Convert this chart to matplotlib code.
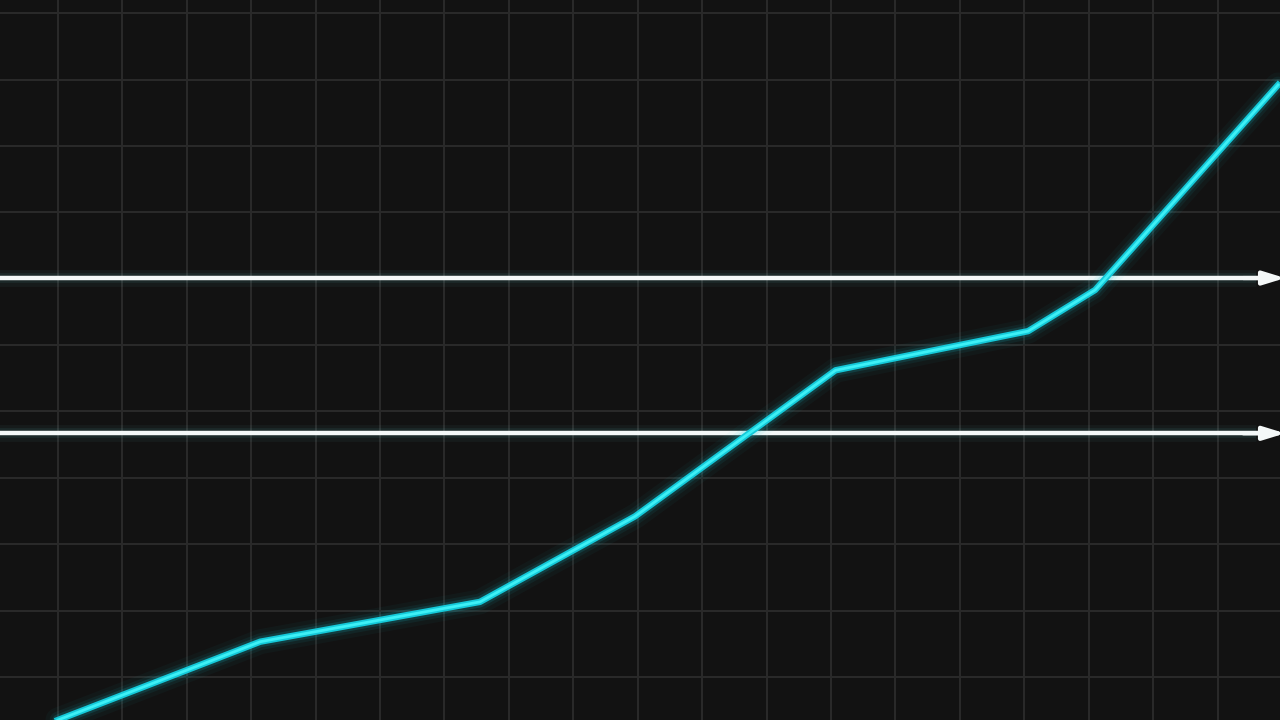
import numpy as np
import matplotlib
matplotlib.use("Agg")
from matplotlib import pyplot as plt

# curve vertices, in grid units
xs = [0.0, 3.14, 6.55, 8.96, 12.07, 15.06, 16.10, 18.94]
ys = [-0.65, 0.53, 1.13, 2.42, 4.62, 5.21, 5.83, 8.92]

# the two horizontal reference levels
levels = [6.01, 3.67]

bg = "#121212"
fig = plt.figure(figsize=(12.8, 7.2), dpi=100, facecolor=bg)
ax = fig.add_axes([0, 0, 1, 1], facecolor=bg)

ax.set_xlim(-0.9, 18.97)
ax.set_ylim(-0.65, 10.2)

# grid
for gx in range(0, 19):
    ax.axvline(gx, color="#292929", lw=1.5, zorder=1)
for gy in range(0, 11):
    ax.axhline(gy, color="#292929", lw=1.5, zorder=1)

# white levels with faint glow and arrow heads
for lv in levels:
    for w, a in [(12, 0.05), (7, 0.08)]:
        ax.plot([-1, 18.6], [lv, lv], color="#6fd6d6", lw=w, alpha=a,
                solid_capstyle="butt", zorder=2)
    ax.plot([-1, 18.6], [lv, lv], color="#f4f8f8", lw=3.2, zorder=3)
    ax.annotate("", xy=(19.05, lv), xytext=(18.4, lv), annotation_clip=False,
                arrowprops=dict(arrowstyle="-|>,head_length=1.3,head_width=0.4",
                                color="#f4f8f8", lw=3.0, shrinkA=0, shrinkB=0),
                zorder=3)

# glowing cyan curve
for w, a in [(18, 0.04), (12, 0.07), (8, 0.15)]:
    ax.plot(xs, ys, color="#13c8d8", lw=w, alpha=a,
            solid_joinstyle="round", solid_capstyle="round", zorder=4)
ax.plot(xs, ys, color="#14c9d9", lw=4.6, solid_joinstyle="round", zorder=5)
ax.plot(xs, ys, color="#3ef0f6", lw=2.0, solid_joinstyle="round", zorder=6)

ax.set_axis_off()
fig.savefig("out.png", dpi=100, facecolor=bg)
